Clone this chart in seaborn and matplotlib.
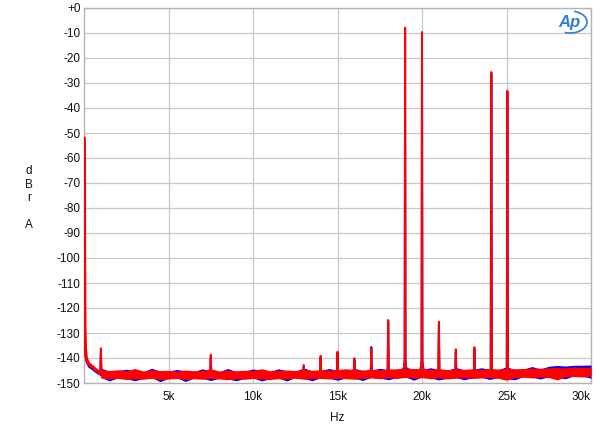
import numpy as np
import pandas as pd
import matplotlib
matplotlib.use("Agg")
import matplotlib.pyplot as plt
import seaborn as sns
from matplotlib.patches import Arc
from matplotlib.ticker import MultipleLocator

# --- Axis ticks ---------------------------------------------------------------
X_TICKS = [5000, 10000, 15000, 20000, 25000, 30000]
X_TICK_LABELS = ["5k", "10k", "15k", "20k", "25k", "30k"]
Y_TICKS = list(range(0, -151, -10))
Y_TICK_LABELS = ["+0", "-10", "-20", "-30", "-40", "-50", "-60", "-70", "-80",
                 "-90", "-100", "-110", "-120", "-130", "-140", "-150"]

# --- Noise floor envelope, read every 500 Hz from 1 kHz to 30 kHz -------------
FLOOR_FREQS = np.arange(1000, 30001, 500)
RED_HI = [-144.6, -145.0, -144.7, -145.1, -144.2, -145.2, -144.7, -145.0, -144.9, -145.2,
          -144.8, -145.1, -144.9, -144.3, -145.2, -144.8, -145.1, -144.9, -145.0, -144.3,
          -145.1, -144.9, -144.8, -145.0, -144.6, -144.9, -144.7, -144.8, -144.6, -144.3,
          -144.7, -144.8, -144.5, -144.7, -144.4, -144.3, -144.2, -144.2, -144.3, -144.5,
          -144.3, -144.6, -144.4, -144.5, -144.3, -144.5, -144.2, -144.4, -144.1, -144.3,
          -144.2, -144.0, -144.1, -143.9, -143.8, -143.9, -143.6, -143.7, -143.6]
RED_LO = [-148.0, -148.4, -148.2, -148.6, -148.3, -148.5, -148.1, -148.7, -148.4, -148.2,
          -148.6, -148.3, -148.5, -148.2, -148.4, -148.7, -148.3, -148.5, -148.2, -148.4,
          -148.6, -148.3, -148.4, -148.1, -148.5, -148.3, -148.2, -148.4, -148.1, -148.3,
          -148.5, -148.2, -148.0, -148.3, -147.9, -148.2, -147.8, -148.1, -147.9, -148.3,
          -148.0, -148.4, -148.1, -147.9, -148.2, -148.0, -147.8, -148.1, -148.9, -147.9,
          -147.7, -148.0, -147.6, -147.8, -148.8, -147.5, -147.4, -147.6, -147.3]
BLUE_HI = [-144.0, -145.3, -145.0, -144.5, -145.1, -145.5, -144.1, -145.3, -145.2, -144.6,
           -145.1, -145.4, -144.3, -145.3, -145.5, -144.2, -145.4, -145.2, -144.4, -145.0,
           -145.4, -144.3, -145.1, -145.3, -144.0, -145.2, -145.0, -144.2, -144.9, -145.2,
           -144.1, -145.1, -144.8, -144.1, -144.7, -144.6, -143.6, -144.5, -144.6, -143.9,
           -144.6, -144.9, -143.8, -144.8, -144.6, -143.9, -144.5, -144.7, -143.5, -144.6,
           -144.5, -143.4, -144.4, -143.3, -143.0, -143.2, -142.9, -142.9, -142.8]
BLUE_LO = [-147.7, -149.2, -147.9, -148.3, -149.1, -148.2, -147.8, -149.5, -148.1, -147.9,
           -149.4, -148.0, -148.2, -149.0, -148.1, -148.4, -149.1, -148.2, -147.9, -149.2,
           -148.3, -148.0, -149.2, -147.8, -148.2, -149.1, -147.9, -148.1, -148.9, -148.0,
           -148.2, -149.0, -147.7, -148.0, -148.7, -147.9, -147.5, -148.9, -147.6, -148.0,
           -148.8, -148.1, -147.8, -148.7, -147.9, -147.7, -148.6, -147.8, -148.3, -148.7,
           -147.4, -147.7, -148.4, -147.5, -148.1, -148.3, -147.1, -147.3, -148.1]

# --- Low-frequency roll-off (DC skirt) ----------------------------------------
LF_FREQS = [15, 30, 50, 80, 120, 180, 300, 500, 750, 1000]
RED_LF = [-52, -100, -128, -136, -139.5, -141, -142.5, -143.5, -145.0, -146.3]
BLUE_LF = [-54, -104, -130, -137.5, -140.5, -142, -143.5, -144.5, -145.8, -146.8]

# --- Tones and distortion products --------------------------------------------
SPIKE_FREQS = [1000, 7500, 13000, 14000, 15000, 16000, 17000, 18000,
               19000, 20000, 21000, 22000, 23100, 24100, 25050]
RED_PEAKS = [-136.1, -138.7, -142.8, -139.1, -137.5, -140.1, -136.1, -124.8,
             -7.9, -9.6, -125.5, -136.5, -135.7, -25.6, -33.1]
BLUE_PEAKS = [-137.0, -140.0, -143.5, -140.0, -138.5, -141.0, -135.6, -125.5,
              -8.3, -10.0, -126.5, -137.5, -136.5, -26.0, -33.6]
SKIRT_DB = -141.0      # base level of the skirts round the two main tones
FLOOR_DB = -146.3      # centre of the noise floor

RED = "#ff0000"
BLUE = "#0000ff"


def trace(lf_freqs, lf_db, peaks):
    xs, ys = list(lf_freqs), list(lf_db)
    for f, p in zip(SPIKE_FREQS, peaks):
        if p > -20:
            xs += [f - 160, f - 60, f - 25, f, f + 25, f + 60, f + 160]
            ys += [FLOOR_DB, -143.5, SKIRT_DB, p, SKIRT_DB, -143.5, FLOOR_DB]
        else:
            xs += [f - 35, f, f + 35]
            ys += [FLOOR_DB, p, FLOOR_DB]
    xs.append(30000)
    ys.append(FLOOR_DB)
    return pd.DataFrame({"Hz": xs, "dB": ys})


sns.set_style("white")
plt.rcParams['font.family'] = ['Liberation Sans', 'DejaVu Sans']

fig = plt.figure(figsize=(6, 4.29), dpi=100)
ax = fig.add_axes([84 / 600, 1 - 383 / 429, 507 / 600, 375 / 429])

# blue channel below, red on top
ax.fill_between(FLOOR_FREQS, BLUE_LO, BLUE_HI, color=BLUE, lw=0, zorder=3)
sns.lineplot(data=trace(LF_FREQS, BLUE_LF, BLUE_PEAKS), x="Hz", y="dB", sort=False,
             estimator=None, color=BLUE, lw=1.4, ax=ax, zorder=3)
ax.fill_between(FLOOR_FREQS, RED_LO, RED_HI, color=RED, lw=0, zorder=4)
sns.lineplot(data=trace(LF_FREQS, RED_LF, RED_PEAKS), x="Hz", y="dB", sort=False,
             estimator=None, color=RED, lw=1.4, ax=ax, zorder=4)
sns.lineplot(x=LF_FREQS, y=RED_LF, color=RED, lw=2.4, ax=ax, zorder=4)

ax.set_xlim(0, 30000)
ax.set_ylim(-150, 0)
ax.set_xticks(X_TICKS)
ax.set_xticklabels(X_TICK_LABELS)
ax.set_yticks(Y_TICKS)
ax.set_yticklabels(Y_TICK_LABELS)
ax.get_xticklabels()[-1].set_horizontalalignment("right")
ax.xaxis.set_minor_locator(MultipleLocator(500))
ax.yaxis.set_minor_locator(MultipleLocator(1))

ax.grid(True, which="major", color="#c8c8c8", lw=0.9)
ax.tick_params(which="major", length=0, labelsize=8.5, labelcolor="#111111")
ax.tick_params(axis="y", which="major", pad=2.5)
ax.tick_params(axis="x", which="major", pad=6)
ax.tick_params(which="minor", direction="in", length=3.5, width=0.6, color="#c8c8c8")
for s in ax.spines.values():
    s.set_color("#b4b4b4")
    s.set_linewidth(1.0)

ax.set_xlabel("Hz", fontsize=8.5, labelpad=6, color="#111111")
ax.set_ylabel("")
fig.text(29 / 600, 1 - 198 / 429, "d\nB\nr\n\nA", ha="center", va="center",
         fontsize=8.5, linespacing=1.15, color="#111111")

# AP logo
fig.text(569 / 600, 1 - 22 / 429, "Ap", ha="center", va="center", fontsize=12,
         style="italic", fontweight="bold", color="#2f7fd0")
fig.add_artist(Arc((570 / 600, 1 - 22 / 429), 34 / 600, 22 / 429, theta1=-110, theta2=75,
                   transform=fig.transFigure, color="#2f7fd0", lw=1.2))

fig.savefig("out.png", dpi=100)
